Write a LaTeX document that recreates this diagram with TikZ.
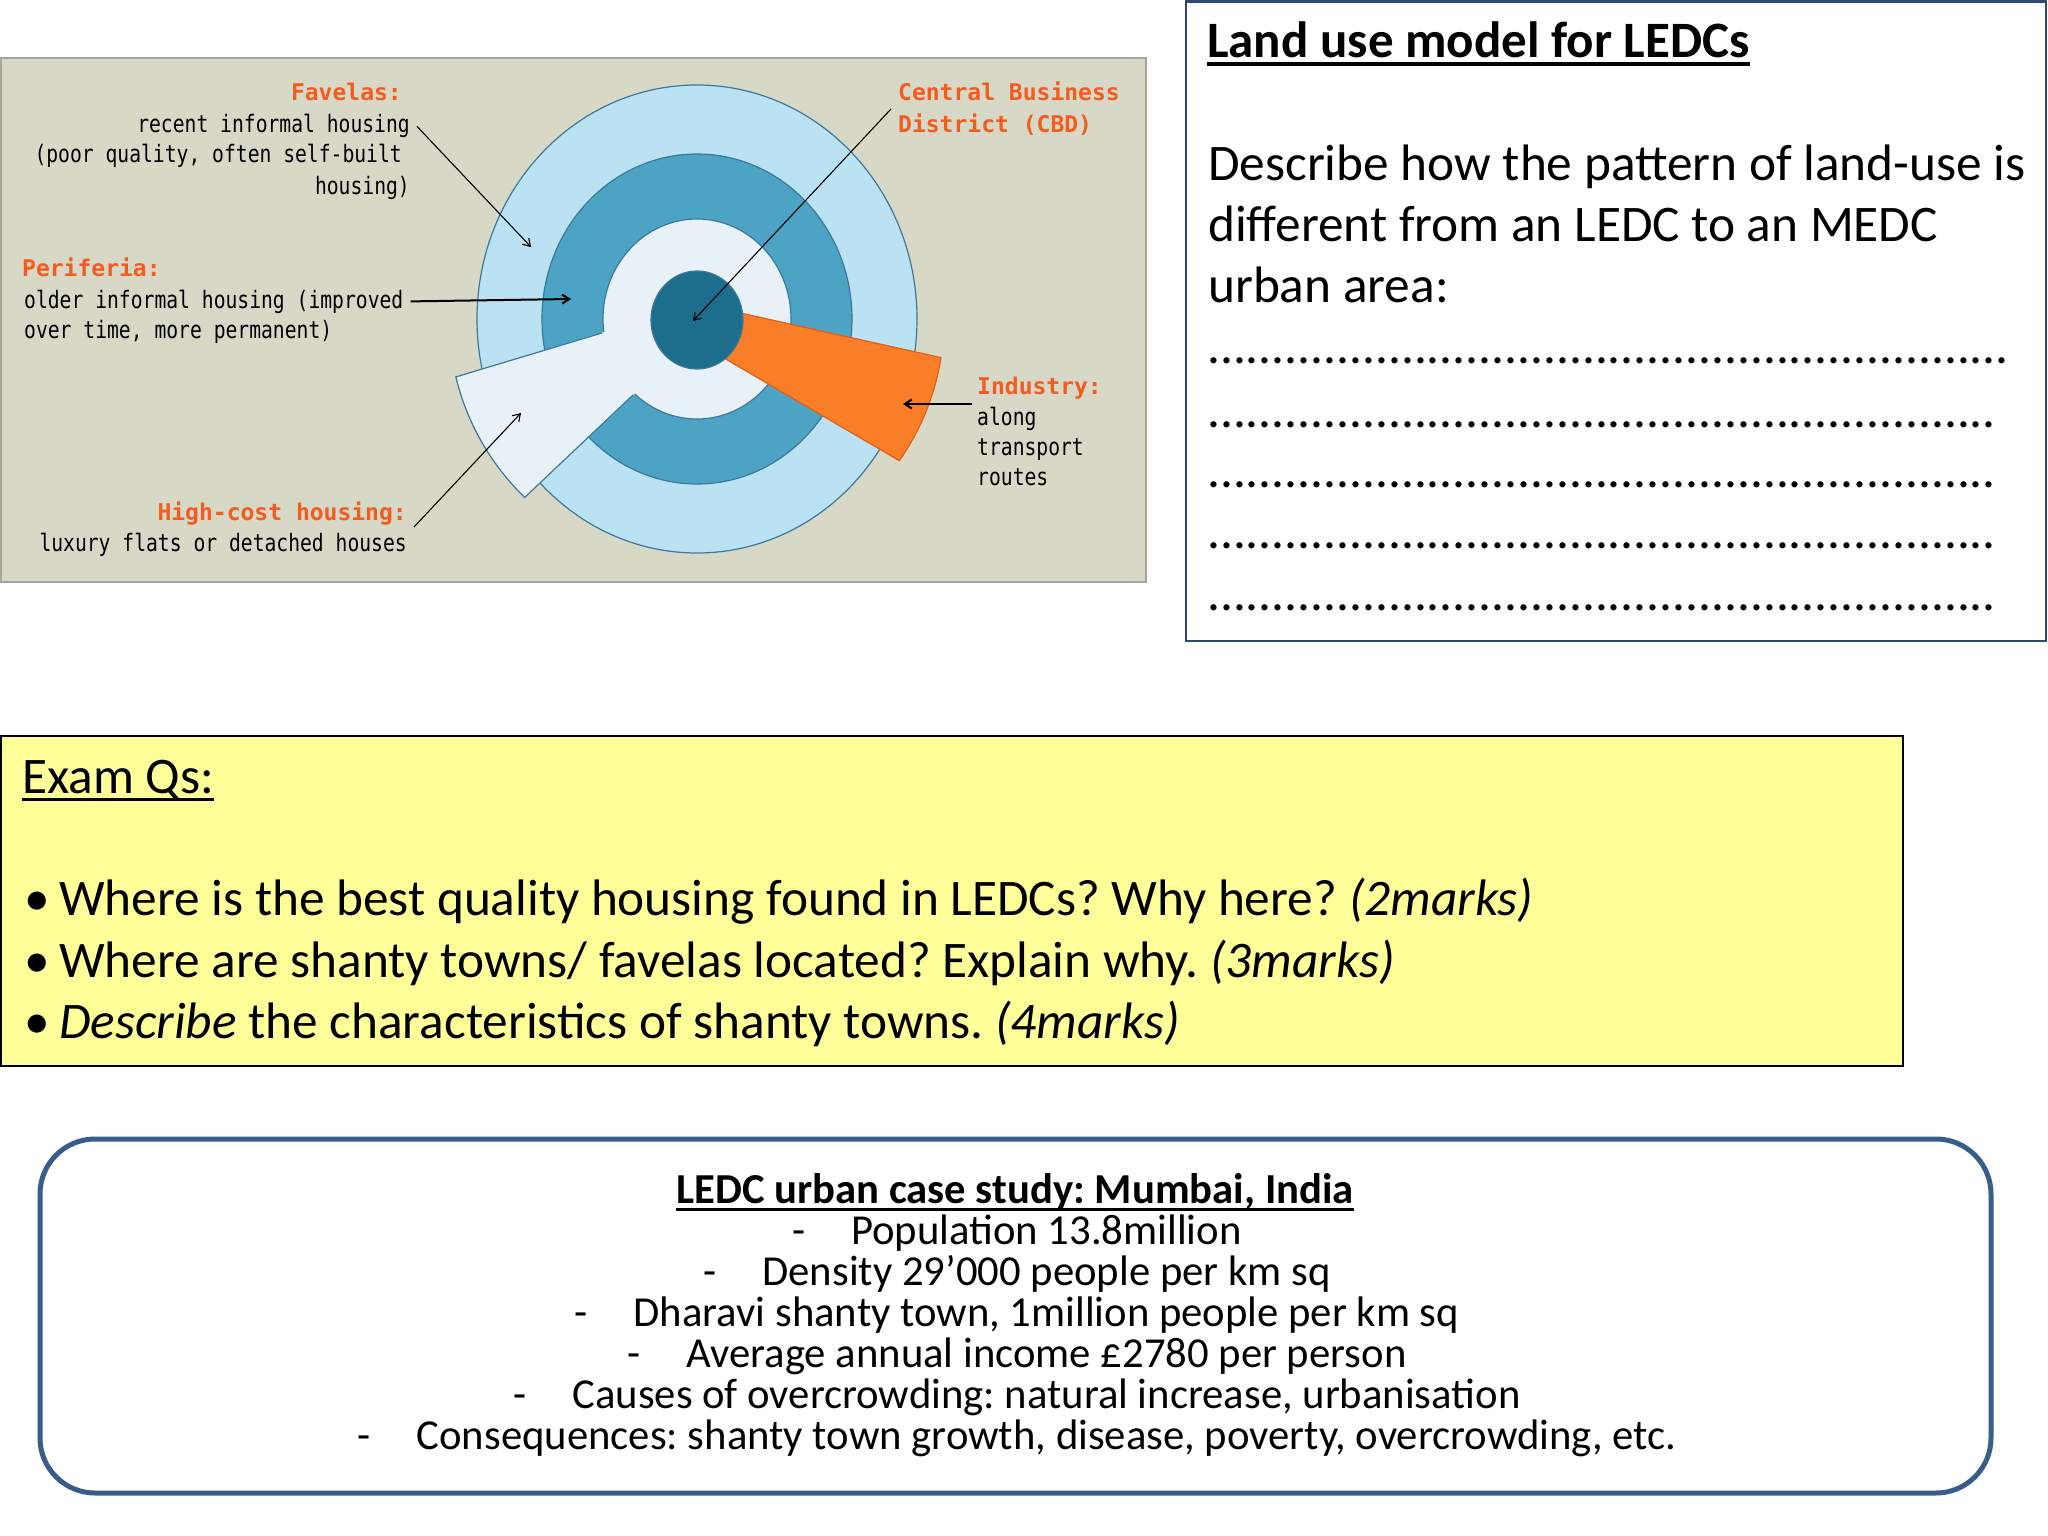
\documentclass[tikz,border=0pt]{standalone}
\usepackage{fontspec}
\setmainfont{Carlito}
\newfontfamily\pix[FakeStretch=0.82]{DejaVu Sans Mono}
\newfontfamily\pixl{DejaVu Sans Mono}
\usetikzlibrary{arrows.meta,calc}
\frenchspacing
\definecolor{panelbg}{RGB}{216,216,198}
\definecolor{panelline}{RGB}{165,165,155}
\definecolor{outerblue}{RGB}{186,226,243}
\definecolor{midblue}{RGB}{76,163,196}
\definecolor{innerwhite}{RGB}{232,240,248}
\definecolor{cbdblue}{RGB}{28,110,140}
\definecolor{ringline}{RGB}{60,120,155}
\definecolor{indorange}{RGB}{250,126,40}
\definecolor{indline}{RGB}{225,95,20}
\definecolor{lblorange}{RGB}{242,92,30}
\definecolor{boxnavy}{RGB}{47,72,115}
\definecolor{examyellow}{RGB}{255,255,153}
\definecolor{casenavy}{RGB}{56,93,138}
\def\tendots{..........}
\tikzset{
  pixtxt/.style={font=\pix\fontsize{24}{30}\selectfont, inner sep=0, text=black},
  pixlbl/.style={font=\pixl\bfseries\fontsize{23}{30}\selectfont, inner sep=0, text=lblorange},
  ring/.style={draw=ringline, line width=1.2},
  thinptr/.style={-{Straight Barb[length=7pt,width=9pt]}, line width=1.1, black},
  thickptr/.style={-{Straight Barb[length=7pt,width=9pt]}, line width=2, black},
  bigtxt/.style={font=\fontsize{51.3}{61}\selectfont, inner sep=0, anchor=base west},
  bigbold/.style={font=\bfseries\fontsize{51}{61}\selectfont, inner sep=0, anchor=base west},
  casetxt/.style={font=\fontsize{42.7}{41}\selectfont, inner sep=0, anchor=base},
  casebold/.style={font=\bfseries\fontsize{42.7}{41}\selectfont, inner sep=0, anchor=base},
}
\begin{document}
\begin{tikzpicture}[x=1pt,y=-1pt]
\useasboundingbox (0,0) rectangle (2048,1536);
\fill[white] (0,0) rectangle (2048,1536);

% ---------- diagram panel ----------
\draw[panelline, line width=2.5, fill=panelbg] (1,58) rectangle (1146,582);
\coordinate (c) at (697,319);
\draw[ring, fill=outerblue] (c) ellipse [x radius=220, y radius=234];
\draw[ring, fill=midblue] (c) ellipse [x radius=155, y radius=165];
\draw[ring, fill=innerwhite] (c) ellipse [x radius=94, y radius=100];
% high-cost wedge
\path (c) ++(166.5:248) coordinate (hc1);
\path (c) ++(134:248) coordinate (hc2);
\fill[innerwhite] (690,306) -- (hc1) arc[start angle=166.5, end angle=134, radius=248] -- (680,351) -- cycle;
\draw[ring] (602,333) -- (hc1) arc[start angle=166.5, end angle=134, radius=248] -- (633,395);
% industry wedge
\path (c) ++(9:247) coordinate (oc1);
\draw[draw=indline, line width=1.2, fill=indorange] (700,304) -- (oc1) arc[start angle=9, end angle=35, radius=247] -- (700,344) -- cycle;
% CBD
\draw[ring, fill=cbdblue] (697,320) ellipse [x radius=46, y radius=49];

% labels
\node[pixlbl, anchor=base east] (favl) at (402,101) {Favelas:};
\node[pixtxt, anchor=base east] (fav1) at (410,133) {recent informal housing};
\node[pixtxt, anchor=base east] (fav2) at (402,163) {(poor quality, often self-built};
\node[pixtxt, anchor=base east] (fav3) at (410,194) {housing)};
\node[pixlbl, anchor=base west] (perl) at (22,276) {Periferia:};
\node[pixtxt, anchor=base west] (per1) at (24,308) {older informal housing (improved};
\node[pixtxt, anchor=base west] (per2) at (24,338) {over time, more permanent)};
\node[pixlbl, anchor=base east] (hcl) at (407,520) {High-cost housing:};
\node[pixtxt, anchor=base east] (hct) at (407,551) {luxury flats or detached houses};
\node[pixlbl, anchor=base west] (cbdl1) at (898,101) {Central Business};
\node[pixlbl, anchor=base west] (cbdl2) at (898,132) {District (CBD)};
\node[pixlbl, anchor=base west] (indl) at (977,394) {Industry:};
\node[pixtxt, anchor=base west] (ind1) at (977,425) {along};
\node[pixtxt, anchor=base west] (ind2) at (977,455) {transport};
\node[pixtxt, anchor=base west] (ind3) at (977,485) {routes};

% arrows
\coordinate (favtip) at (531,247);
\coordinate (pertip) at (571,299);
\coordinate (hctip) at (521,413);
\coordinate (cbdtip) at (693,321);
\coordinate (indtip) at (903,404);
\coordinate (hcs) at (414,527);
\coordinate (cbds) at (891,109);
\coordinate (inds) at (972,404);
\draw[thinptr] ([xshift=7pt]fav1.east) -- (favtip);
\draw[thickptr] ([xshift=7pt]per1.east) -- (pertip);
\draw[thinptr] (hcs) -- (hctip);
\draw[thinptr] (cbds) -- (cbdtip);
\draw[thickptr] (inds) -- (indtip);

% ---------- top right box ----------
\draw[boxnavy, line width=2.5] (1186,1.5) rectangle (2046,641);
\node[bigbold] (ttl) at (1207,58) {Land use model for LEDCs};
\draw[line width=3.5] ([yshift=-6pt]ttl.base west) -- ([yshift=-6pt]ttl.base east);
\node[bigtxt] (d1) at (1208,180) {Describe how the pattern of land-use is};
\node[bigtxt] (d2) at (1208,241) {different from an LEDC to an MEDC};
\node[bigtxt] (d3) at (1208,302) {urban area:};
\node[bigtxt] (l1) at (1207,363) {\tendots\tendots\tendots\tendots\tendots\tendots..};
\node[bigtxt] (l2) at (1207,427) {\tendots\tendots\tendots\tendots\tendots\tendots.};
\node[bigtxt] (l3) at (1207,487) {\tendots\tendots\tendots\tendots\tendots\tendots.};
\node[bigtxt] (l4) at (1207,548) {\tendots\tendots\tendots\tendots\tendots\tendots.};
\node[bigtxt] (l5) at (1207,610) {\tendots\tendots\tendots\tendots\tendots\tendots.};

% ---------- exam box ----------
\draw[black, line width=2.5, fill=examyellow] (1,736) rectangle (1903,1066);
\node[bigtxt] (exq) at (22,793) {Exam Qs:};
\draw[line width=3] ([yshift=-6pt]exq.base west) -- ([yshift=-6pt]exq.base east);
\node[bigtxt] (b1) at (24,915) {•};
\node[bigtxt] (q1) at (59,915) {Where is the best quality housing found in LEDCs? Why here? \textit{(2marks)}};
\node[bigtxt] (b2) at (24,977) {•};
\node[bigtxt] (q2) at (59,977) {Where are shanty towns/ favelas located? Explain why. \textit{(3marks)}};
\node[bigtxt] (b3) at (24,1038) {•};
\node[bigtxt] (q3) at (59,1038) {\textit{Describe} the characteristics of shanty towns. \textit{(4marks)}};

% ---------- case study box ----------
\draw[casenavy, line width=5, fill=white, rounded corners=55] (40,1139) rectangle (1991,1493);
\node[casebold] (cst) at (1015,1203) {LEDC urban case study: Mumbai, India};
\draw[line width=3] ([yshift=-6pt]cst.base west) -- ([yshift=-6pt]cst.base east);
\node[casetxt] (cs1) at (1017,1244) {\makebox[59pt][l]{-}Population 13.8million};
\node[casetxt] (cs2) at (1017,1285) {\makebox[59pt][l]{-}Density 29’000 people per km sq};
\node[casetxt] (cs3) at (1017,1326) {\makebox[59pt][l]{-}Dharavi shanty town, 1million people per km sq};
\node[casetxt] (cs4) at (1017,1367) {\makebox[59pt][l]{-}Average annual income £2780 per person};
\node[casetxt] (cs5) at (1017,1408) {\makebox[59pt][l]{-}Causes of overcrowding: natural increase, urbanisation};
\node[casetxt] (cs6) at (1017,1449) {\makebox[59pt][l]{-}Consequences: shanty town growth, disease, poverty, overcrowding, etc.};
\end{tikzpicture}
\end{document}
